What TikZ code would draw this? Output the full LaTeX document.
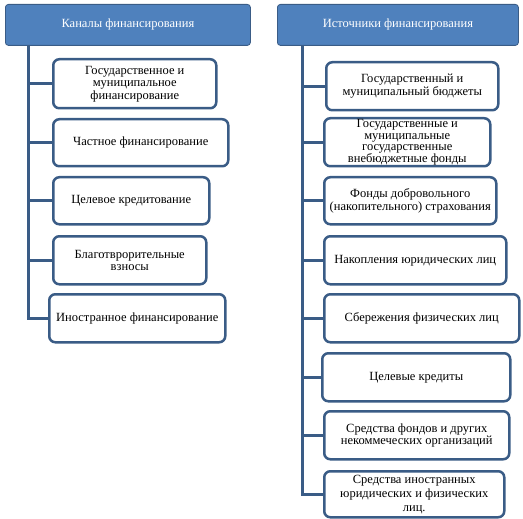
\documentclass[tikz,border=0pt]{standalone}
\usepackage{fontspec}
\setmainfont{Liberation Serif}
\usepackage{xcolor}
\usetikzlibrary{positioning}
\definecolor{headblue}{HTML}{4F81BD}
\definecolor{edgeblue}{HTML}{3A5C86}

\begin{document}
\begin{tikzpicture}[
x=1pt, y=-1pt,
head/.style={draw=edgeblue, line width=0.8pt, fill=headblue, rounded corners=3pt, text=white, anchor=north west, inner sep=0pt, font=\fontsize{12.5}{12.5}\selectfont},
item/.style={draw=edgeblue, line width=2.5pt, fill=white, rounded corners=6pt, align=center, anchor=north west, inner sep=0pt, font=\fontsize{12.5}{12.5}\selectfont},
branch/.style={draw=edgeblue, line width=3pt}
]
\useasboundingbox (0,0) rectangle (523,519);

% channels
\node[head, minimum width=245pt, minimum height=41pt] (lhead) at (5,4) {Каналы финансирования};
\node[item, minimum width=163pt, minimum height=49pt] (l1) at (52,58) {Государственное и\\муниципальное\\финансирование};
\node[item, minimum width=175pt, minimum height=47pt] (l2) at (52,118) {Частное финансирование};
\node[item, minimum width=156pt, minimum height=47pt] (l3) at (52,176) {Целевое кредитование};
\node[item, minimum width=153pt, minimum height=48pt] (l4) at (52,235) {Благотврорительные\\взносы};
\node[item, minimum width=176pt, minimum height=48pt] (l5) at (48,293) {Иностранное финансирование};
\coordinate (lbus) at (28,45);

% sources
\node[head, minimum width=241pt, minimum height=41pt] (rhead) at (277,4) {Источники финансирования};
\node[item, minimum width=172pt, minimum height=48pt] (r1) at (325,61) {Государственный и\\муниципальный бюджеты};
\node[item, minimum width=166pt, minimum height=48pt, font=\fontsize{12.5}{11.8}\selectfont] (r2) at (323,117) {Государственные и\\муниципальные\\государственные\\внебюджетные фонды};
\node[item, minimum width=172pt, minimum height=47pt] (r3) at (323,176) {Фонды добровольного\\(накопительного) страхования};
\node[item, minimum width=182pt, minimum height=48pt] (r4) at (323,235) {Накопления юридических лиц};
\node[item, minimum width=195pt, minimum height=48pt] (r5) at (323,293) {Сбережения физических лиц};
\node[item, minimum width=188pt, minimum height=48pt] (r6) at (321,352) {Целевые кредиты};
\node[item, minimum width=185pt, minimum height=48pt] (r7) at (323,410) {Средства фондов и других\\некоммеческих организаций};
\node[item, minimum width=180pt, minimum height=46pt, font=\fontsize{12.5}{14}\selectfont] (r8) at (323,470) {Средства иностранных\\юридических и физических\\лиц.};
\coordinate (rbus) at (302,45);

% connectors
\draw[branch] (lbus) |- (l5.west);
\foreach \n in {l1,l2,l3,l4}
  \draw[branch] (lbus |- \n.west) -- (\n.west);
\draw[branch] (rbus) |- (r8.west);
\foreach \n in {r1,r2,r3,r4,r5,r6,r7}
  \draw[branch] (rbus |- \n.west) -- (\n.west);
\end{tikzpicture}
\end{document}
